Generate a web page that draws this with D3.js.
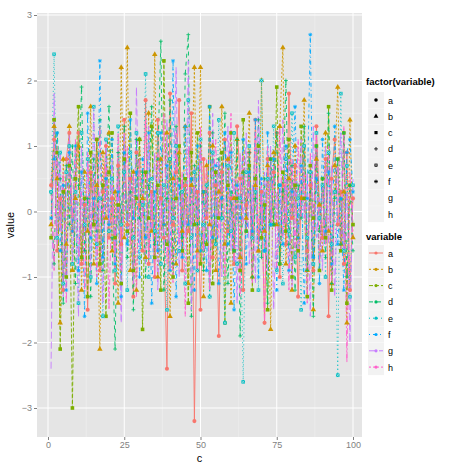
<!DOCTYPE html><html><head><meta charset="utf-8">
<script src="https://cdn.jsdelivr.net/npm/d3@7/dist/d3.min.js"></script>
<style>body{margin:0;background:#fff}text{font-family:"Liberation Sans",Arial,sans-serif}</style></head><body>
<svg id="c" width="474" height="474"></svg>
<script>
const seriesNames=["a","b","c","d","e","f","g","h"];
const colors=["#F8766D","#CD9600","#7CAE00","#00BE67","#00BFC4","#00A9FF","#C77CFF","#FF61CC"];
const xTicks=[0,25,50,75,100];
const yTicks=[-3,-2,-1,0,1,2,3];
const a=[0.4,1.1,-0.6,0.2,-1.2,0.8,1.2,-0.3,0.5,1.2,-0.8,0.1,-1.5,0.6,-0.2,1.1,-0.9,0.3,1.0,-0.4,0.2,-1.1,0.7,-0.5,1.4,-0.2,0.5,-1.3,0.9,0.1,-0.6,1.7,-0.8,0.3,-1.0,1.4,0.2,-0.4,-2.4,1.8,-0.2,0.6,1.7,-0.9,0.4,-0.3,1.5,-3.2,0.3,-1.5,0.8,-0.1,1.2,-0.7,0.4,-1.9,0.6,1.1,-0.3,0.2,-0.8,1.3,0.5,-1.2,0.1,0.9,-0.4,1.4,-0.6,0.3,-1.7,0.8,-0.2,0.6,1.2,-1.0,0.4,-0.5,1.8,-0.1,0.7,-1.3,0.2,1.0,-0.6,0.4,-0.9,1.3,0.1,-0.4,0.8,-1.6,0.5,1.1,-0.2,0.3,-0.8,0.9,-1.2,0.2];
const b=[-0.2,1.3,0.5,-1.7,0.8,-0.5,1.3,-0.9,0.2,1.0,-1.2,0.6,-0.3,1.6,-0.8,0.4,-2.1,0.9,-0.1,1.2,-0.6,0.3,-1.4,2.2,-0.4,2.5,-0.9,0.6,-1.2,1.1,0.2,-0.7,1.5,-0.3,2.4,-1.0,0.8,-0.2,1.2,-1.6,0.5,-0.8,0.9,-0.3,1.3,-1.1,0.4,2.2,-0.6,2.2,-1.3,0.7,-0.2,1.0,-0.9,0.3,1.6,-0.5,0.8,-1.4,0.2,1.1,-0.7,0.6,-0.1,1.5,-1.0,0.4,-0.6,2.0,-0.3,0.7,-1.8,0.9,-0.2,1.3,2.5,-0.8,0.5,-1.2,1.0,-0.4,0.2,1.7,-0.9,0.6,-1.5,0.8,0.1,-0.6,1.2,-0.3,-1.1,0.7,1.9,-0.5,0.3,-1.7,1.4,-0.4];
const c=[-0.4,1.4,0.9,-2.1,0.3,-1.0,0.7,-3.0,0.5,1.6,-0.7,0.2,-1.3,0.9,-0.2,1.1,-0.8,0.4,-1.6,0.6,1.2,-0.4,0.1,-1.1,0.8,-0.3,1.5,-0.9,0.2,1.1,-1.8,0.6,-0.1,1.3,-0.7,0.4,-1.2,2.3,-0.5,0.8,-1.0,0.2,1.0,-0.6,0.5,-1.4,0.9,-0.2,1.2,-0.8,0.3,-0.5,1.6,-1.1,0.6,-0.1,0.9,-1.7,0.4,1.2,-0.6,0.2,-0.9,1.4,-0.3,0.7,-1.2,0.5,1.0,-0.4,0.1,-1.5,0.8,-0.2,1.9,-0.8,0.6,-0.3,1.1,-1.0,0.4,-0.6,1.3,0.2,-1.3,0.7,-0.1,1.0,-0.9,0.5,-0.4,1.6,-1.2,0.3,0.8,-0.6,1.2,-1.4,0.4,-0.2];
const d=[0.3,-0.8,1.2,0.5,-1.4,0.7,-0.2,1.0,-1.1,0.4,1.9,-0.6,0.2,-1.3,0.8,-0.3,1.4,-0.9,0.5,1.6,-0.4,-2.1,0.9,-0.2,1.3,-0.7,0.3,-1.5,1.1,-0.1,0.6,-1.0,0.4,1.6,-0.5,0.8,2.6,-1.2,0.2,1.7,-0.8,1.3,0.5,-0.4,2.1,2.7,-1.6,0.7,-0.2,1.0,-0.9,0.4,-1.3,1.2,-0.5,0.8,-0.1,1.5,-1.1,0.3,-0.6,1.1,-1.9,0.6,-0.3,0.9,-1.0,0.2,1.4,-0.7,0.5,-1.4,0.8,-0.2,1.2,-0.8,0.3,2.0,-0.5,0.7,-1.2,0.4,-0.1,1.3,-0.9,0.6,-1.6,1.0,-0.3,0.5,-0.7,1.5,-1.1,0.2,0.8,-0.5,1.2,-1.0,0.4,-0.6];
const e=[0.3,2.4,-0.4,0.9,-1.1,0.6,1.0,-0.8,0.3,-1.4,1.2,-0.2,0.8,-1.0,1.6,-0.5,0.2,-1.6,1.1,-0.3,0.5,-0.9,1.3,-0.2,0.6,-1.2,0.9,-0.4,1.2,-0.7,0.1,2.1,-1.0,0.5,-0.3,1.2,-0.8,0.4,-1.5,0.8,-0.1,1.0,-0.6,0.3,-1.1,1.7,-0.4,0.6,-0.9,1.1,-0.2,0.4,-1.3,0.9,-0.5,1.4,-0.1,-1.7,0.7,-0.3,1.2,-0.8,0.2,-2.6,0.6,1.0,-0.4,0.3,-1.2,2.0,-0.6,0.5,-0.2,1.3,-0.9,0.4,-1.1,0.8,-0.3,1.5,-0.7,0.2,-1.5,1.0,-0.4,0.6,-0.8,1.2,-0.1,0.4,-1.0,0.9,-0.5,0.3,-2.5,1.8,-0.6,0.7,-1.3,0.4];
const f=[-0.1,0.8,1.2,-0.6,0.4,-1.2,0.9,-0.3,1.0,-0.9,0.6,-1.6,1.5,-0.4,0.2,-1.1,2.3,-0.7,0.5,-0.2,1.1,-0.8,0.3,-1.3,0.9,-0.5,1.4,-0.1,0.6,-1.0,0.8,-0.4,1.2,-1.4,0.3,-0.6,1.2,-0.2,0.7,-0.9,2.3,-1.3,0.4,-0.7,1.3,-0.2,0.5,-1.2,1.0,-0.6,0.3,-0.9,1.6,-0.4,0.7,-1.1,0.2,1.2,-0.5,0.9,-1.5,0.4,-0.1,1.1,-0.8,0.6,-0.3,1.4,-1.0,0.5,-0.6,1.2,-0.2,0.8,-1.2,0.4,-0.5,1.0,-0.9,0.3,1.6,-0.4,0.7,-1.4,0.2,2.7,-0.7,0.5,-1.1,1.1,-0.3,0.6,-0.8,1.3,-0.5,0.2,-1.2,0.9,1.1,0.3];
const g=[-2.4,1.8,-0.5,0.9,-1.3,0.4,1.2,-0.8,0.2,-1.6,1.0,-0.3,0.7,-1.0,1.6,-0.6,0.3,-1.4,1.1,-0.2,0.8,-0.9,0.5,-1.7,1.2,-0.4,0.6,-1.1,1.9,-0.5,0.2,-0.8,1.3,-0.3,0.9,-1.2,0.4,-0.6,1.4,-0.9,0.2,2.2,-1.0,0.5,-0.4,2.3,-1.5,0.7,-0.1,1.0,-0.7,0.3,-1.2,1.5,-0.4,0.8,-1.0,0.1,1.3,-0.6,0.5,-1.4,0.9,-0.2,1.2,-0.8,0.4,-1.1,1.7,-0.3,0.6,-0.9,1.0,-1.5,0.3,-0.5,1.4,-0.2,0.8,-1.2,0.5,-0.7,1.1,-0.1,0.6,-1.6,1.3,-0.4,0.2,-0.9,1.0,-0.5,0.7,-1.3,0.4,1.2,-0.6,0.3,-2.0,0.5];
const h=[0.5,-0.9,1.0,-0.3,0.6,-1.4,0.8,-0.1,1.1,-0.7,0.3,-1.2,0.9,-0.4,0.5,-1.0,1.3,-0.2,0.7,-1.5,0.4,-0.6,1.2,-0.9,0.2,1.0,-0.5,0.6,-1.3,0.8,-0.1,1.4,-0.7,0.3,-1.0,0.9,-0.4,1.5,-0.8,0.2,-1.1,1.2,-0.5,0.6,-1.6,1.0,-0.2,0.4,-0.9,1.3,-0.6,0.8,-1.2,0.3,1.1,-0.4,0.7,-1.0,0.2,1.5,-0.8,0.5,-1.3,0.9,-0.3,0.6,-1.1,1.2,-0.5,0.4,-1.7,1.0,-0.2,0.7,-0.9,1.3,-0.4,0.5,-1.2,0.8,-0.6,1.1,-0.1,0.6,-1.4,0.9,-0.3,1.2,-0.8,0.4,-0.5,1.0,-1.1,0.3,0.7,-0.6,1.3,-2.3,0.6,-0.4];
const seriesData=[a,b,c,d,e,f,g,h];
const dashes=[null,"2,2","4,2","4,4","1,3","1,3,4,3","7,3","2,2,6,2"];
const shapes=[d3.symbolCircle,d3.symbolTriangle,d3.symbolSquare,"plus",d3.symbolSquare,"star",null,null];

const svg=d3.select("#c");
const L=37,R=362,T=13,B=437;
const x=d3.scaleLinear().domain([0,100]).range([48,353]);
const y=d3.scaleLinear().domain([-3,3]).range([408,15]);
svg.append("rect").attr("x",L).attr("y",T).attr("width",R-L).attr("height",B-T).attr("fill","#E5E5E5");
const minorX=[12.5,37.5,62.5,87.5], minorY=[-2.5,-1.5,-0.5,0.5,1.5,2.5];
minorX.forEach(v=>svg.append("line").attr("x1",x(v)).attr("x2",x(v)).attr("y1",T).attr("y2",B).attr("stroke","#F2F2F2").attr("stroke-width",0.5));
minorY.forEach(v=>svg.append("line").attr("y1",y(v)).attr("y2",y(v)).attr("x1",L).attr("x2",R).attr("stroke","#F2F2F2").attr("stroke-width",0.5));
xTicks.forEach(v=>svg.append("line").attr("x1",x(v)).attr("x2",x(v)).attr("y1",T).attr("y2",B).attr("stroke","#fff").attr("stroke-width",1));
yTicks.forEach(v=>svg.append("line").attr("y1",y(v)).attr("y2",y(v)).attr("x1",L).attr("x2",R).attr("stroke","#fff").attr("stroke-width",1));
const gx=svg.append("g").attr("transform",`translate(0,${B})`).call(d3.axisBottom(x).tickValues(xTicks).tickFormat(d3.format("d")).tickSize(3).tickPadding(2));
const gy=svg.append("g").attr("transform",`translate(${L},0)`).call(d3.axisLeft(y).tickValues(yTicks).tickFormat(d3.format("d")).tickSize(3).tickPadding(2));
[gx,gy].forEach(g=>{g.select(".domain").remove();g.selectAll("line").attr("stroke","#7F7F7F");g.selectAll("text").attr("fill","#7F7F7F").style("font-size","9px");});
svg.append("text").attr("x",(L+R)/2).attr("y",462).attr("text-anchor","middle").style("font-size","11px").text("c");
svg.append("text").attr("transform",`translate(14,${(T+B)/2}) rotate(-90)`).attr("text-anchor","middle").style("font-size","11px").text("value");

function drawShape(sel,i,cx,cy,col,sz){
  const s=shapes[i]; if(!s)return;
  const r=1.9;
  if(s==="plus"){sel.append("path").attr("d",`M${cx-r},${cy}H${cx+r}M${cx},${cy-r}V${cy+r}`).attr("stroke",col).attr("stroke-width",0.8).attr("fill","none");return;}
  if(s==="star"){sel.append("path").attr("d",`M${cx-r},${cy}H${cx+r}M${cx},${cy-r}V${cy+r}M${cx-1.4},${cy-1.4}L${cx+1.4},${cy+1.4}M${cx-1.4},${cy+1.4}L${cx+1.4},${cy-1.4}`).attr("stroke",col).attr("stroke-width",0.8).attr("fill","none");return;}
  sel.append("path").attr("d",d3.symbol().type(s).size(sz)()).attr("transform",`translate(${cx},${cy})`).attr("fill",col);
  if(i===4){sel.append("path").attr("d",`M${cx-1.6},${cy-1.6}L${cx+1.6},${cy+1.6}M${cx-1.6},${cy+1.6}L${cx+1.6},${cy-1.6}`).attr("stroke","#E5E5E5").attr("stroke-width",0.5);}
}
const line=d3.line().x((v,j)=>x(j+1)).y(v=>y(v));
const plot=svg.append("g");
seriesData.forEach((arr,i)=>{
  plot.append("path").attr("d",line(arr)).attr("fill","none").attr("stroke",colors[i]).attr("stroke-width",0.9).attr("stroke-dasharray",dashes[i]);
});
seriesData.forEach((arr,i)=>{
  const gg=plot.append("g");
  arr.forEach((v,j)=>drawShape(gg,i,x(j+1),y(v),colors[i],13));
});
const lx=366;
svg.append("text").attr("x",lx).attr("y",85).style("font-size","9.5px").style("font-weight","bold").text("factor(variable)");
seriesNames.forEach((n,i)=>{
  const yy=92+i*16.3;
  svg.append("rect").attr("x",lx+2).attr("y",yy).attr("width",16).attr("height",16).attr("fill","#F2F2F2");
  drawShape(svg,i,lx+10,yy+8,"#000",10);
  svg.append("text").attr("x",lx+22).attr("y",yy+11.5).style("font-size","9px").text(n);
});
svg.append("text").attr("x",lx).attr("y",240).style("font-size","9.5px").style("font-weight","bold").text("variable");
seriesNames.forEach((n,i)=>{
  const yy=245+i*16.3;
  svg.append("rect").attr("x",lx+2).attr("y",yy).attr("width",16).attr("height",16).attr("fill","#F2F2F2");
  svg.append("line").attr("x1",lx+3).attr("x2",lx+17).attr("y1",yy+8).attr("y2",yy+8).attr("stroke",colors[i]).attr("stroke-dasharray",dashes[i]);
  svg.append("circle").attr("cx",lx+10).attr("cy",yy+8).attr("r",1.6).attr("fill",colors[i]);
  svg.append("text").attr("x",lx+22).attr("y",yy+11.5).style("font-size","9px").text(n);
});
</script></body></html>
